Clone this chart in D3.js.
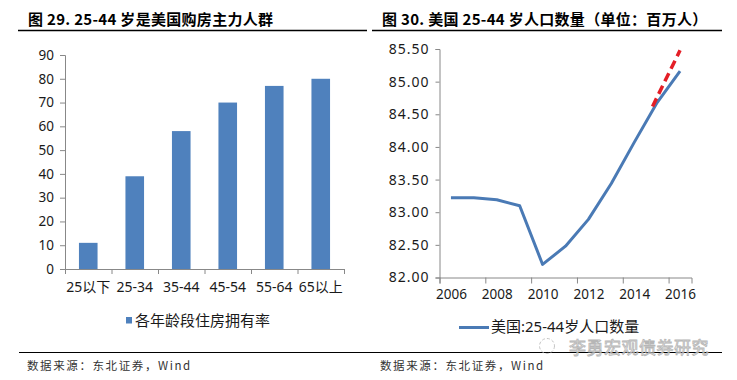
<!DOCTYPE html>
<html><head><meta charset="utf-8">
<script src="https://cdn.jsdelivr.net/npm/d3@7"></script>
<style>
html,body{margin:0;padding:0;background:#fff;}
svg{display:block;}
text{font-family:"Noto Sans","Noto Sans CJK SC",sans-serif;fill:#1a1a1a;}
.title{font-family:"Noto Sans CJK SC",sans-serif;font-weight:bold;font-size:15px;fill:#000;letter-spacing:0.3px;}
.foot{font-family:"Noto Sans CJK SC",sans-serif;font-size:11.5px;fill:#333;letter-spacing:1.6px;}
</style></head><body>
<svg id="c" width="737" height="380"></svg>
<script>
// ---- Data ----
const ageGroups = ["25以下","25-34","35-44","45-54","55-64","65以上"];
const ownershipRate = [11, 39, 58, 70, 77, 80];
const leftTicks = [0,10,20,30,40,50,60,70,80,90];

const years = [2006,2007,2008,2009,2010,2011,2012,2013,2014,2015,2016];
const population = [83.22,83.22,83.19,83.10,82.20,82.48,82.89,83.44,84.07,84.68,85.16];
const projYears = [2014.8, 2016];
const projValues = [84.62, 85.48];
const rightTicks = [82.0,82.5,83.0,83.5,84.0,84.5,85.0,85.5];
const yearLabels = [2006,2008,2010,2012,2014,2016];

const titleLeft = "图 29. 25-44 岁是美国购房主力人群";
const titleRight = "图 30. 美国 25-44 岁人口数量（单位：百万人）";
const legendLeft = "各年龄段住房拥有率";
const legendRight = "美国:25-44岁人口数量";
const source = "数据来源：东北证券，Wind";
const watermark = "李勇宏观债券研究";

const svg = d3.select("#c");
const axisColor = "#888";
const barColor = "#4f81bd";
const lineColor = "#4a7ab5";

// ---- Titles ----
svg.append("text").attr("class","title").attr("x",28).attr("y",25).text(titleLeft);
svg.append("text").attr("class","title").attr("x",382).attr("y",25).text(titleRight);
svg.append("line").attr("x1",18).attr("x2",367).attr("y1",30.5).attr("y2",30.5).attr("stroke","#000").attr("stroke-width",1.5);
svg.append("line").attr("x1",372).attr("x2",722).attr("y1",30.5).attr("y2",30.5).attr("stroke","#000").attr("stroke-width",1.5);

// ---- Left bar chart ----
const xL = d3.scaleBand().domain(ageGroups).range([65,344]).paddingInner(0.6).paddingOuter(0.3);
const yL = d3.scaleLinear().domain([0,90]).range([269,55]);
const xLb = d3.scaleLinear().domain([0,ageGroups.length]).range([65,344]);

svg.selectAll("rect.bar").data(ageGroups).enter().append("rect")
  .attr("class","bar")
  .attr("x",d=>xL(d)).attr("width",xL.bandwidth())
  .attr("y",(d,i)=>yL(ownershipRate[i]))
  .attr("height",(d,i)=>yL(0)-yL(ownershipRate[i]))
  .attr("fill",barColor);

const gyL = svg.append("g").attr("transform","translate(65,0)")
  .call(d3.axisLeft(yL).tickValues(leftTicks).tickSize(5).tickPadding(6).tickFormat(d3.format("d")));
gyL.selectAll("text").style("font-size","13.5px");

const gxLt = svg.append("g").attr("transform","translate(0,269)")
  .call(d3.axisBottom(xLb).tickValues(d3.range(0,ageGroups.length+1)).tickSize(5).tickFormat(""));
const gxL = svg.append("g").attr("transform","translate(0,269)")
  .call(d3.axisBottom(xL).tickSize(0).tickPadding(13));
gxL.select(".domain").remove();
gxL.selectAll("text").style("font-size","14px");

// ---- Right line chart ----
const xR = d3.scaleLinear().domain([2005.5,2016.5]).range([439.5,691.5]);
const yR = d3.scaleLinear().domain([82,85.5]).range([277.5,49]);

const gyR = svg.append("g").attr("transform","translate(439.5,0)")
  .call(d3.axisLeft(yR).tickValues(rightTicks).tickSize(4).tickPadding(6).tickFormat(d3.format(".2f")));
gyR.selectAll("text").style("font-size","14px").style("letter-spacing","1px");

const gxRt = svg.append("g").attr("transform","translate(0,277.5)")
  .call(d3.axisBottom(xR).tickValues([2005.5,2007.5,2009.5,2011.5,2013.5,2015.5]).tickSize(6).tickFormat(""));
const gxR = svg.append("g").attr("transform","translate(0,277.5)")
  .call(d3.axisBottom(xR).tickValues(yearLabels).tickSize(0).tickPadding(12).tickFormat(d3.format("d")));
gxR.select(".domain").remove();
gxR.selectAll("text").style("font-size","13.5px");

[gyL,gxLt,gyR,gxRt].forEach(g=>{
  g.selectAll(".domain,line").attr("stroke",axisColor);
});

const line = d3.line().x(d=>xR(d[0])).y(d=>yR(d[1]));
svg.append("path").datum(years.map((y,i)=>[y,population[i]]))
  .attr("d",line).attr("fill","none").attr("stroke",lineColor).attr("stroke-width",3).attr("stroke-linejoin","round");
svg.append("path").datum(projYears.map((y,i)=>[y,projValues[i]]))
  .attr("d",line).attr("fill","none").attr("stroke","#e41e26").attr("stroke-width",3.5).attr("stroke-dasharray","9,5");

// ---- Legends ----
svg.append("rect").attr("x",126).attr("y",317).attr("width",6).attr("height",6.5).attr("fill",barColor);
svg.append("text").attr("x",135).attr("y",325.5).style("font-size","15px").text(legendLeft);
svg.append("line").attr("x1",459).attr("x2",489).attr("y1",327.5).attr("y2",327.5).attr("stroke",lineColor).attr("stroke-width",3);
svg.append("text").attr("x",491).attr("y",332).style("font-size","15px").text(legendRight);

// ---- Footer ----
svg.append("line").attr("x1",19).attr("x2",722).attr("y1",352.5).attr("y2",352.5).attr("stroke","#000").attr("stroke-width",1.2);
svg.append("text").attr("class","foot").attr("x",27).attr("y",370).text(source);
svg.append("text").attr("class","foot").attr("x",380).attr("y",370).text(source);

// watermark
const wm = svg.append("g").attr("opacity",0.85);
wm.append("circle").attr("cx",547).attr("cy",346).attr("r",7.5).attr("fill","none").attr("stroke","#bbb").attr("stroke-width",1).attr("stroke-dasharray","3,2");
wm.append("text").attr("x",569).attr("y",354).style("font-family","'Noto Sans CJK SC',sans-serif").style("font-size","17px")
  .style("fill","#eee").style("stroke","#aaa").style("stroke-width","0.8px").style("letter-spacing","0.5px").text(watermark);
</script>
</body></html>
